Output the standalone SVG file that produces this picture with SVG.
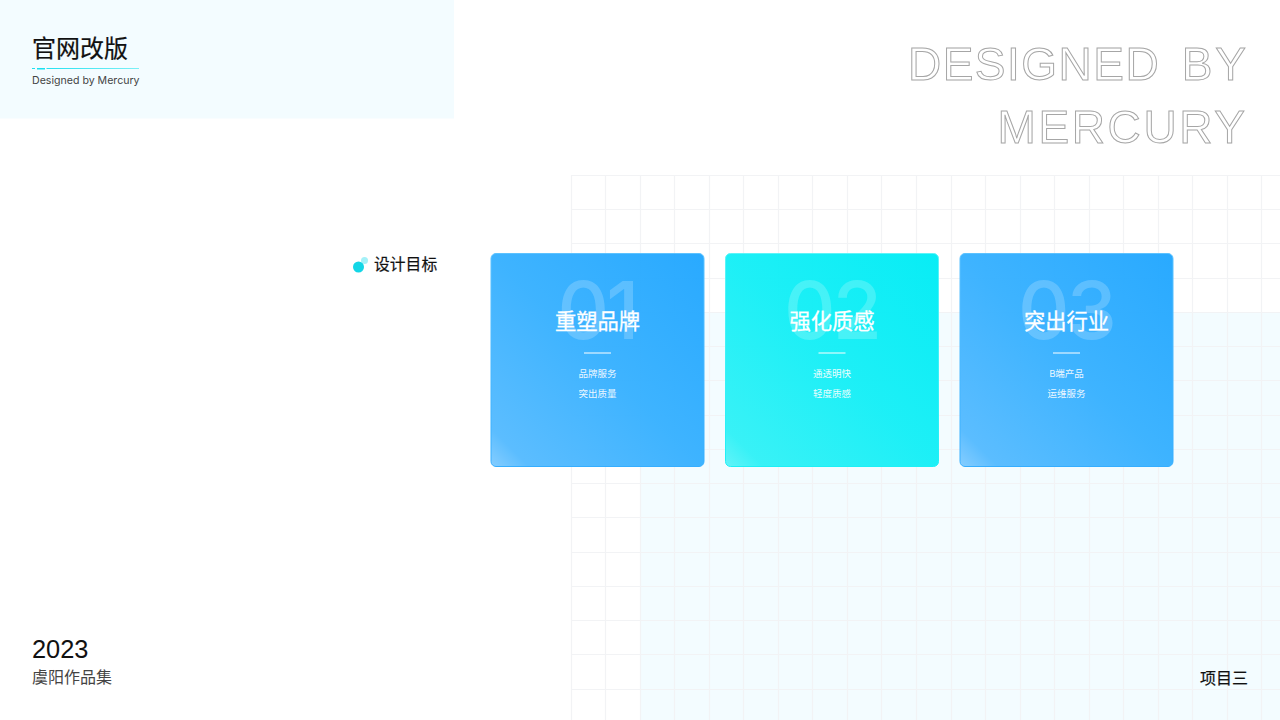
<svg xmlns="http://www.w3.org/2000/svg" width="1280" height="720" viewBox="0 0 1280 720">
<style>
.cjk{font-family:"Noto Sans CJK SC","Liberation Sans",sans-serif}
.lat{font-family:"Liberation Sans","Noto Sans CJK SC",sans-serif}
.outline{font-family:"Liberation Sans",sans-serif;font-size:46px;fill:#fff;stroke:#a6a6a6;stroke-width:1;letter-spacing:2.600px;text-anchor:end}
.num{font-family:Inter,"Liberation Sans",sans-serif;font-size:80px;font-weight:500;letter-spacing:-3px;fill:#fff;fill-opacity:.2;text-anchor:middle}
.cardt{font-size:21.300px;fill:#fff;stroke:#fff;stroke-width:.3;text-anchor:middle}
.cards{font-size:9.500px;fill:#fff;fill-opacity:.92;text-anchor:middle}
.rule{stroke:#fff;stroke-width:1}
.card{stroke-width:1;fill-opacity:.97}
.dark{fill:#111;stroke:#111;stroke-width:.2}
.grid{stroke:#f2f3f5;stroke-width:1.200;fill:none}
</style>
<defs>
<linearGradient id="gb" x1="0" y1="1" x2="1" y2="0">
<stop offset="0" stop-color="#82ccff"/><stop offset=".09" stop-color="#56bbff"/><stop offset=".5" stop-color="#38b1ff"/><stop offset="1" stop-color="#22a7ff"/>
</linearGradient>
<linearGradient id="gc" x1="0" y1="1" x2="1" y2="0">
<stop offset="0" stop-color="#5ef3f8"/><stop offset=".09" stop-color="#32f1f6"/><stop offset=".5" stop-color="#16eff6"/><stop offset="1" stop-color="#00ecf5"/>
</linearGradient>
<linearGradient id="sb" x1="0" y1="0" x2="0" y2="1">
<stop offset="0" stop-color="#5cc2ff"/><stop offset="1" stop-color="#35aeff"/>
</linearGradient>
<linearGradient id="sc" x1="0" y1="0" x2="0" y2="1">
<stop offset="0" stop-color="#5cf4f8"/><stop offset="1" stop-color="#1df0f6"/>
</linearGradient>
<linearGradient id="gl" x1="0" y1="0" x2="1" y2="0">
<stop offset="0" stop-color="#19dff0"/><stop offset="1" stop-color="#7cf0f6"/>
</linearGradient>
<filter id="gray" x="-5%" y="-20%" width="110%" height="140%" color-interpolation-filters="sRGB"><feOffset dx="0" dy="0"/></filter>
</defs>
<rect width="1280" height="720" fill="#fff"/>
<g id="background">
<rect x="0" y="0" width="454" height="118.500" fill="#f3fcff"/>
<rect x="640" y="312" width="640" height="408" fill="#f3fcff"/>
<path class="grid" d="M571.500 175V720M605.500 175V720M640.500 175V720M674.500 175V720M709.500 175V720M743.500 175V720M778.500 175V720M812.500 175V720M847.500 175V720M881.500 175V720M916.500 175V720M951.500 175V720M985.500 175V720M1020.500 175V720M1054.500 175V720M1089.500 175V720M1123.500 175V720M1158.500 175V720M1192.500 175V720M1227.500 175V720M1261.500 175V720"/>
<path class="grid" d="M571 175.500H1280M571 209.500H1280M571 243.500H1280M571 278.500H1280M571 312.500H1280M571 346.500H1280M571 380.500H1280M571 415.500H1280M571 449.500H1280M571 483.500H1280M571 517.500H1280M571 552.500H1280M571 586.500H1280M571 620.500H1280M571 654.500H1280M571 689.500H1280"/>
</g>
<g id="header">
<text class="cjk dark" x="32" y="57" font-size="24">官网改版</text>
<rect x="32" y="68" width="107" height="1" fill="url(#gl)"/>
<rect x="37" y="68" width="8" height="1.500" fill="#19dff0"/>
<rect x="35" y="68" width="2" height="1" fill="#f3fcff"/>
<rect x="45" y="68" width="1.500" height="1" fill="#f3fcff"/>
<text x="32" y="84" font-family="Inter,'Liberation Sans',sans-serif" font-size="10.600" fill="#444">Designed by Mercury</text>
</g>
<g id="title" filter="url(#gray)">
<text class="outline" x="1249" y="80" style="letter-spacing:1.500px" word-spacing="7.100">DESIGNED <tspan style="letter-spacing:3px">BY</tspan></text>
<text class="outline" x="1247.500" y="143">MERCURY</text>
</g>
<g id="section-label">
<circle cx="364.500" cy="260.500" r="3.500" fill="#a4f1f8"/>
<circle cx="358.500" cy="267" r="5.500" fill="#13d6e6"/>
<text class="cjk dark" x="374" y="270" font-size="15.800">设计目标</text>
</g>
<g id="card-1">
<rect class="card" x="491" y="253.500" width="213" height="213" rx="5" fill="url(#gb)" stroke="url(#sb)"/>
<text class="num" x="597" y="339">01</text>
<text class="cjk cardt" x="597.500" y="329">重塑品牌</text>
<line class="rule" x1="584" y1="353" x2="611" y2="353"/>
<text class="cjk cards" x="597.500" y="377">品牌服务</text>
<text class="cjk cards" x="597.500" y="397">突出质量</text>
</g>
<g id="card-2">
<rect class="card" x="725.500" y="253.500" width="213" height="213" rx="5" fill="url(#gc)" stroke="url(#sc)"/>
<text class="num" x="831.500" y="339">02</text>
<text class="cjk cardt" x="832" y="329">强化质感</text>
<line class="rule" x1="818.500" y1="353" x2="845.500" y2="353"/>
<text class="cjk cards" x="832" y="377">通透明快</text>
<text class="cjk cards" x="832" y="397">轻度质感</text>
</g>
<g id="card-3">
<rect class="card" x="960" y="253.500" width="213" height="213" rx="5" fill="url(#gb)" stroke="url(#sb)"/>
<text class="num" x="1066" y="339">03</text>
<text class="cjk cardt" x="1066.500" y="329">突出行业</text>
<line class="rule" x1="1053" y1="353" x2="1080" y2="353"/>
<text class="cjk cards" x="1066.500" y="377">B端产品</text>
<text class="cjk cards" x="1066.500" y="397">运维服务</text>
</g>
<g id="footer">
<text class="lat" x="32" y="658" font-size="25.400" fill="#111">2023</text>
<text class="cjk" x="32" y="683" font-size="16" fill="#444">虞阳作品集</text>
<text class="cjk dark" x="1248" y="684" font-size="16" text-anchor="end">项目三</text>
</g>
</svg>
